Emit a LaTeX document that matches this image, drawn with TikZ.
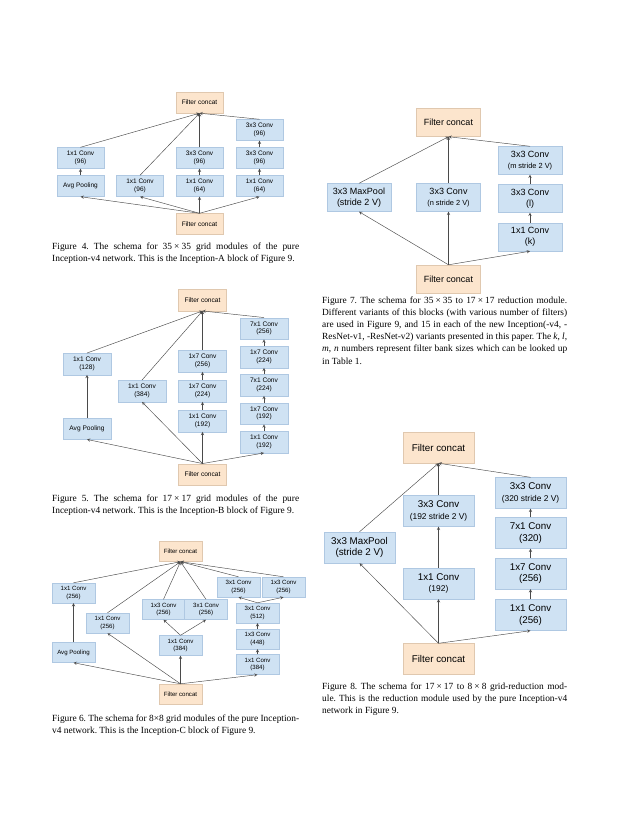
\documentclass[tikz,border=0pt]{standalone}
\usepackage{fontspec}
\setmainfont{Liberation Serif}
\setsansfont{Liberation Sans}
\usetikzlibrary{calc}
\definecolor{convblue}{HTML}{CFE2F3}
\definecolor{convedge}{HTML}{AFC8E2}
\definecolor{catpeach}{HTML}{FCE5CD}
\definecolor{catedge}{HTML}{E0C8AF}
\definecolor{wiregray}{HTML}{4A4A4A}
\tolerance=9999
\hbadness=10000
\frenchspacing

\tikzset{
  conv/.style={draw=convedge, fill=convblue, align=center, inner sep=0pt},
  concat/.style={draw=catedge, fill=catpeach, align=center, inner sep=0pt},
  wire/.style={-stealth, wiregray, line width=0.45pt},
  caption/.style={anchor=base west, inner sep=0pt, align=justify,
    font=\rmfamily\fontsize{9.4}{12.1}\selectfont},
  sizeA/.style={minimum width=47pt, minimum height=21pt, font=\sffamily\fontsize{6.5}{7.4}\selectfont},
  sizeB/.style={minimum width=48pt, minimum height=21.5pt, font=\sffamily\fontsize{6.6}{7.5}\selectfont},
  sizeC/.style={minimum width=43pt, minimum height=20pt, font=\sffamily\fontsize{6.1}{7.1}\selectfont},
  sizeD/.style={minimum width=64pt, minimum height=28pt, font=\sffamily\fontsize{9.0}{10.6}\selectfont},
  sizeE/.style={minimum width=71pt, minimum height=31pt, font=\sffamily\fontsize{9.8}{11.4}\selectfont}
}

\begin{document}
\begin{tikzpicture}[x=1pt, y=-1pt]
\useasboundingbox (0,0) rectangle (638,826);

% Inception-A
\begin{scope}[every node/.append style={sizeA}]
\node[concat] (a-top) at (199.5,102.5) {Filter concat};
\node[concat] (a-bot) at (199.5,224) {Filter concat};
\node[conv] (a-avg) at (80.5,186) {Avg Pooling};
\node[conv] (a-p) at (80.5,158) {1x1 Conv\\(96)};
\node[conv] (a-b) at (140,186) {1x1 Conv\\(96)};
\node[conv] (a-c1) at (199.5,186) {1x1 Conv\\(64)};
\node[conv] (a-c2) at (199.5,158) {3x3 Conv\\(96)};
\node[conv] (a-d1) at (259.5,186) {1x1 Conv\\(64)};
\node[conv] (a-d2) at (259.5,158) {3x3 Conv\\(96)};
\node[conv] (a-d3) at (259.5,130) {3x3 Conv\\(96)};
\end{scope}
\draw[wire] (a-bot.north) -- (a-avg.south);
\draw[wire] (a-bot.north) -- (a-b.south);
\draw[wire] (a-bot.north) -- (a-c1.south);
\draw[wire] (a-bot.north) -- (a-d1.south);
\draw[wire] (a-avg) -- (a-p);
\draw[wire] (a-c1) -- (a-c2);
\draw[wire] (a-d1) -- (a-d2);
\draw[wire] (a-d2) -- (a-d3);
\draw[wire] (a-p.north) -- (a-top.south);
\draw[wire] (a-b.north) -- (a-top.south);
\draw[wire] (a-c2.north) -- (a-top.south);
\draw[wire] (a-d3.north) -- (a-top.south);
\node[caption, text width=247pt] (cap-a) at (52,249.5) {Figure 4. The schema for 35\:×\:35 grid modules of the pure\linebreak Inception-v4 network. This is the Inception-A block of Figure 9.};

% Inception-B
\begin{scope}[every node/.append style={sizeB}]
\node[concat] (b-top) at (202.5,300) {Filter concat};
\node[concat] (b-bot) at (202.5,474.5) {Filter concat};
\node[conv] (b-avg) at (87,428.5) {Avg Pooling};
\node[conv] (b-p) at (87,364) {1x1 Conv\\(128)};
\node[conv] (b-b) at (142,391) {1x1 Conv\\(384)};
\node[conv] (b-c1) at (202.5,421) {1x1 Conv\\(192)};
\node[conv] (b-c2) at (202.5,391) {1x7 Conv\\(224)};
\node[conv] (b-c3) at (202.5,361) {1x7 Conv\\(256)};
\node[conv] (b-d1) at (264,442) {1x1 Conv\\(192)};
\node[conv] (b-d2) at (264,413.5) {1x7 Conv\\(192)};
\node[conv] (b-d3) at (264,385) {7x1 Conv\\(224)};
\node[conv] (b-d4) at (264,357) {1x7 Conv\\(224)};
\node[conv] (b-d5) at (264,328.5) {7x1 Conv\\(256)};
\end{scope}
\draw[wire] (b-bot.north) -- (b-avg.south);
\draw[wire] (b-bot.north) -- (b-b.south);
\draw[wire] (b-bot.north) -- (b-c1.south);
\draw[wire] (b-bot.north) -- (b-d1.south);
\draw[wire] (b-avg) -- (b-p);
\draw[wire] (b-c1) -- (b-c2);
\draw[wire] (b-c2) -- (b-c3);
\draw[wire] (b-d1) -- (b-d2);
\draw[wire] (b-d2) -- (b-d3);
\draw[wire] (b-d3) -- (b-d4);
\draw[wire] (b-d4) -- (b-d5);
\draw[wire] (b-p.north) -- (b-top.south);
\draw[wire] (b-b.north) -- (b-top.south);
\draw[wire] (b-c3.north) -- (b-top.south);
\draw[wire] (b-d5.north) -- (b-top.south);
\node[caption, text width=247pt] (cap-b) at (52,501.5) {Figure 5. The schema for 17\:×\:17 grid modules of the pure\linebreak Inception-v4 network. This is the Inception-B block of Figure 9.};

% Inception-C
\begin{scope}[every node/.append style={sizeC}]
\node[concat] (c-top) at (180.5,551.5) {Filter concat};
\node[concat] (c-bot) at (180.5,694) {Filter concat};
\node[conv] (c-avg) at (73.5,652.5) {Avg Pooling};
\node[conv] (c-p) at (73.5,593) {1x1 Conv\\(256)};
\node[conv] (c-b) at (107.5,623) {1x1 Conv\\(256)};
\node[conv] (c-c) at (180.5,645.5) {1x1 Conv\\(384)};
\node[conv] (c-cl) at (163.5,609.5) {1x3 Conv\\(256)};
\node[conv] (c-cr) at (206,609.5) {3x1 Conv\\(256)};
\node[conv] (c-d1) at (257.5,664.5) {1x1 Conv\\(384)};
\node[conv] (c-d2) at (257.5,639) {1x3 Conv\\(448)};
\node[conv] (c-d3) at (257.5,613) {3x1 Conv\\(512)};
\node[conv] (c-dl) at (238.5,587) {3x1 Conv\\(256)};
\node[conv] (c-dr) at (283.5,587) {1x3 Conv\\(256)};
\end{scope}
\draw[wire] (c-bot.north) -- (c-avg.south);
\draw[wire] (c-bot.north) -- (c-b.south);
\draw[wire] (c-bot.north) -- (c-c.south);
\draw[wire] (c-bot.north) -- (c-d1.south);
\draw[wire] (c-avg) -- (c-p);
\draw[wire] (c-c.north) -- (c-cl.south);
\draw[wire] (c-c.north) -- (c-cr.south);
\draw[wire] (c-d1) -- (c-d2);
\draw[wire] (c-d2) -- (c-d3);
\draw[wire] (c-d3.north) -- (c-dl.south);
\draw[wire] (c-d3.north) -- (c-dr.south);
\draw[wire] (c-p.north) -- (c-top.south);
\draw[wire] (c-b.north) -- (c-top.south);
\draw[wire] (c-cl.north) -- (c-top.south);
\draw[wire] (c-cr.north) -- (c-top.south);
\draw[wire] (c-dl.north) -- (c-top.south);
\draw[wire] (c-dr.north) -- (c-top.south);
\node[caption, text width=247pt] (cap-c) at (52,721.5) {Figure 6. The schema for 8×8 grid modules of the pure Inception-\linebreak v4 network. This is the Inception-C block of Figure 9.};

% Reduction-A
\begin{scope}[every node/.append style={sizeD}]
\node[concat] (d-top) at (448.5,122.5) {Filter concat};
\node[concat] (d-bot) at (448.5,279) {Filter concat};
\node[conv] (d-pool) at (359,197.5) {3x3 MaxPool\\(stride 2 V)};
\node[conv] (d-b) at (448.5,197.5) {3x3 Conv\\{\fontsize{7.4}{8.6}\selectfont(n stride 2 V)}};
\node[conv] (d-c1) at (530,237) {1x1 Conv\\(k)};
\node[conv] (d-c2) at (530,198.5) {3x3 Conv\\(l)};
\node[conv] (d-c3) at (530,160.5) {3x3 Conv\\{\fontsize{7.4}{8.6}\selectfont(m stride 2 V)}};
\end{scope}
\draw[wire] (d-bot.north) -- (d-pool.south);
\draw[wire] (d-bot.north) -- (d-b.south);
\draw[wire] (d-bot.north) -- (d-c1.south);
\draw[wire] (d-c1) -- (d-c2);
\draw[wire] (d-c2) -- (d-c3);
\draw[wire] (d-pool.north) -- (d-top.south);
\draw[wire] (d-b.north) -- (d-top.south);
\draw[wire] (d-c3.north) -- (d-top.south);
\node[caption, text width=245pt] (cap-d) at (322,303.5) {Figure 7. The schema for 35\:×\:35 to 17\:×\:17 reduction module.\linebreak Different variants of this blocks (with various number of filters)\linebreak are used in Figure 9, and 15 in each of the new Inception(-v4, -\linebreak ResNet-v1, -ResNet-v2) variants presented in this paper. The \textit{k}, \textit{l},\linebreak \textit{m}, \textit{n} numbers represent filter bank sizes which can be looked up\linebreak in Table 1.};

% Reduction-B
\begin{scope}[every node/.append style={sizeE}]
\node[concat] (e-top) at (438.5,447.5) {Filter concat};
\node[concat] (e-bot) at (438.5,659) {Filter concat};
\node[conv] (e-pool) at (359.5,547.5) {3x3 MaxPool\\(stride 2 V)};
\node[conv] (e-b1) at (438.5,583.5) {1x1 Conv\\{\fontsize{8.4}{9.6}\selectfont(192)}};
\node[conv] (e-b2) at (438.5,511) {3x3 Conv\\{\fontsize{8.4}{9.6}\selectfont(192 stride 2 V)}};
\node[conv] (e-c1) at (530.5,615) {1x1 Conv\\(256)};
\node[conv] (e-c2) at (530.5,573.5) {1x7 Conv\\(256)};
\node[conv] (e-c3) at (530.5,533) {7x1 Conv\\(320)};
\node[conv] (e-c4) at (530.5,493) {3x3 Conv\\{\fontsize{8.4}{9.6}\selectfont(320 stride 2 V)}};
\end{scope}
\draw[wire] (e-bot.north) -- (e-pool.south);
\draw[wire] (e-bot.north) -- (e-b1.south);
\draw[wire] (e-bot.north) -- (e-c1.south);
\draw[wire] (e-b1) -- (e-b2);
\draw[wire] (e-c1) -- (e-c2);
\draw[wire] (e-c2) -- (e-c3);
\draw[wire] (e-c3) -- (e-c4);
\draw[wire] (e-pool.north) -- (e-top.south);
\draw[wire] (e-b2.north) -- (e-top.south);
\draw[wire] (e-c4.north) -- (e-top.south);
\node[caption, text width=245pt] (cap-e) at (322,689.5) {Figure 8. The schema for 17\:×\:17 to 8\:×\:8 grid-reduction mod-\linebreak ule. This is the reduction module used by the pure Inception-v4\linebreak network in Figure 9.};
\end{tikzpicture}
\end{document}
